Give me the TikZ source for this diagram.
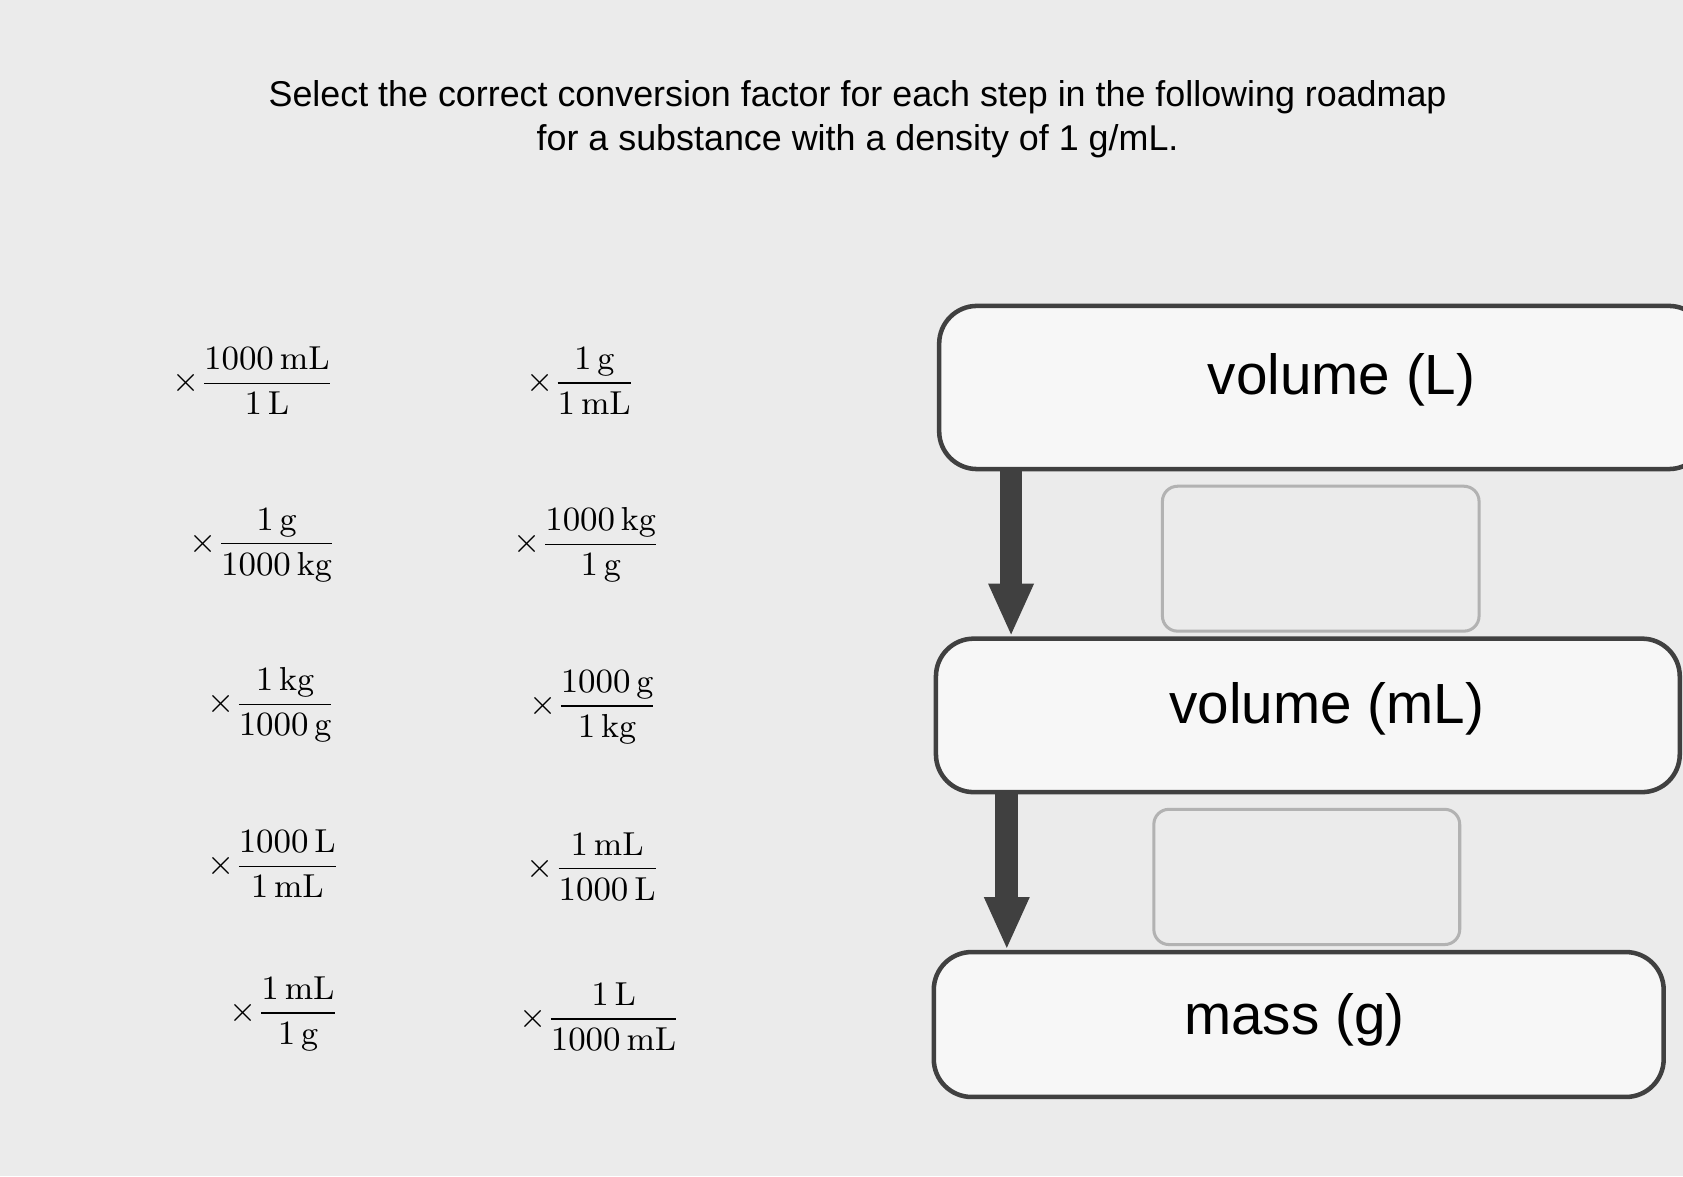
\documentclass[tikz,border=0pt]{standalone}
\usepackage{fontspec}
\usepackage{amsmath}
\setsansfont{Liberation Sans}
\usetikzlibrary{arrows.meta}
\begin{document}
\begin{tikzpicture}[x=0.01cm,y=-0.01cm,
  frac/.style={font=\fontsize{8.8}{10}\selectfont},
  bigbox/.style={draw=black!75,line width=1.2pt,rounded corners=10pt,fill=black!3},
  emptybox/.style={draw=black!30,line width=0.8pt,rounded corners=4pt},
  boxtext/.style={font=\sffamily\fontsize{15}{18}\selectfont},
  arr/.style={draw=black!75,line width=6pt,-{Triangle[length=14pt,width=11pt]}}]
\fill[black!8] (0,0) rectangle (1568,1096);
\useasboundingbox (0,0) rectangle (1568,1096);
\node[font=\sffamily\fontsize{9.5}{11.5}\selectfont,align=center] (title) at (799,111)
  {Select the correct conversion factor for each step in the following roadmap\\for a substance with a density of 1 g/mL.};
\node[frac] (f1) at (236,355) {$\times\dfrac{1000\,\mathrm{mL}}{1\,\mathrm{L}}$};
\node[frac] (f2) at (245,508) {$\times\dfrac{1\,\mathrm{g}}{1000\,\mathrm{kg}}$};
\node[frac] (f3) at (253,657) {$\times\dfrac{1\,\mathrm{kg}}{1000\,\mathrm{g}}$};
\node[frac] (f4) at (255,805) {$\times\dfrac{1000\,\mathrm{L}}{1\,\mathrm{mL}}$};
\node[frac] (f5) at (265,945) {$\times\dfrac{1\,\mathrm{mL}}{1\,\mathrm{g}}$};
\node[frac] (g1) at (541,355) {$\times\dfrac{1\,\mathrm{g}}{1\,\mathrm{mL}}$};
\node[frac] (g2) at (547,508) {$\times\dfrac{1000\,\mathrm{kg}}{1\,\mathrm{g}}$};
\node[frac] (g3) at (553,659) {$\times\dfrac{1000\,\mathrm{g}}{1\,\mathrm{kg}}$};
\node[frac] (g4) at (553,807) {$\times\dfrac{1\,\mathrm{mL}}{1000\,\mathrm{L}}$};
\node[frac] (g5) at (559,947) {$\times\dfrac{1\,\mathrm{L}}{1000\,\mathrm{mL}}$};
\draw[bigbox] (875,285) rectangle (1590,437);
\node[boxtext] (vL) at (1250,354) {volume (L)};
\draw[bigbox] (872,595) rectangle (1565,738);
\node[boxtext] (vmL) at (1236,660) {volume (mL)};
\draw[bigbox] (870,887) rectangle (1550,1022);
\node[boxtext] (mg) at (1206,950) {mass (g)};
\draw[emptybox] (1083,453) rectangle (1378,588);
\draw[emptybox] (1075,754) rectangle (1360,880);
\coordinate (a1s) at (942,437); \coordinate (a1e) at (942,593);
\coordinate (a2s) at (938,738); \coordinate (a2e) at (938,885);
\draw[arr] (a1s) -- (a1e);
\draw[arr] (a2s) -- (a2e);
\end{tikzpicture}
\end{document}
